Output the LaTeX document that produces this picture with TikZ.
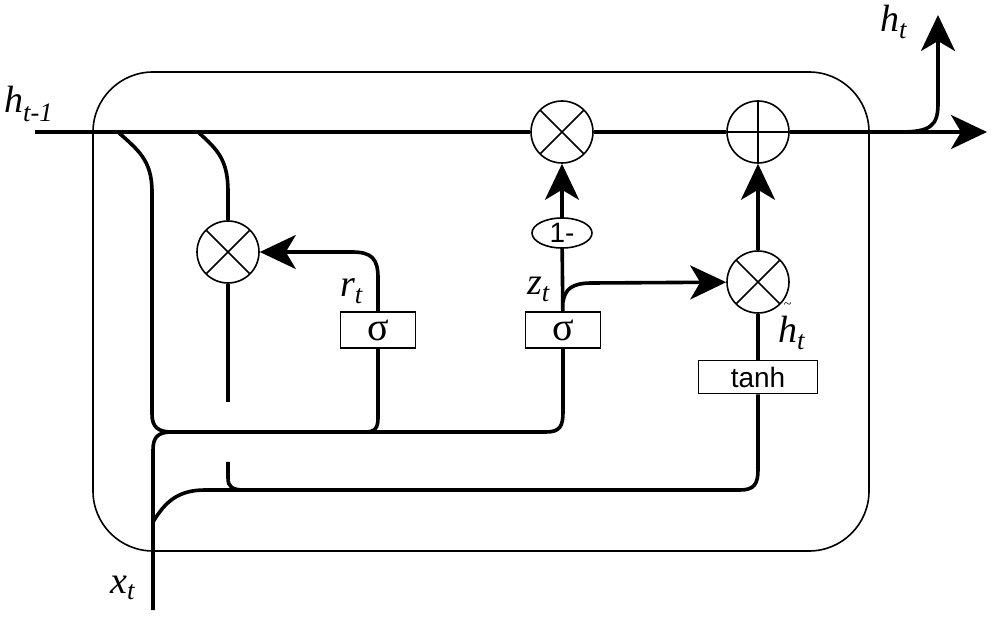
\documentclass[tikz,border=0pt]{standalone}
\usepackage{fontspec}
\setmainfont{Liberation Serif}
\newfontfamily\sansf{Liberation Sans}
\usetikzlibrary{arrows.meta,shapes.geometric}
\begin{document}
\begin{tikzpicture}[x=1pt,y=-1pt,
  wire/.style={line width=3.6pt},
  arr/.style={wire,-{Stealth[length=36pt,width=34pt,inset=10pt]}},
  fine/.style={line width=1.6pt},
  opcirc/.style={circle,draw,fine,minimum size=62pt,inner sep=0pt},
  mulop/.style={opcirc,path picture={\draw[fine] (path picture bounding box.north west)--(path picture bounding box.south east) (path picture bounding box.north east)--(path picture bounding box.south west);}},
  addop/.style={opcirc,path picture={\draw[fine] (path picture bounding box.north)--(path picture bounding box.south) (path picture bounding box.east)--(path picture bounding box.west);}},
  gatebox/.style={draw,fine,rectangle,inner sep=0pt,minimum width=75pt,minimum height=36pt,font=\fontsize{40}{40}\selectfont},
  lab/.style={font=\fontsize{38}{40}\selectfont\itshape,anchor=base west,inner sep=0pt}
]
\useasboundingbox (0,0) rectangle (1002,617);
% cell outline
\draw[fine,rounded corners=60pt] (93,72) rectangle (869,551);
% nodes
\node[mulop] (m1) at (562,132) {};
\node[addop] (ad) at (758,132) {};
\node[mulop] (mr) at (228,252) {};
\node[mulop] (mh) at (758,282) {};
\node[draw,fine,ellipse,minimum width=60pt,minimum height=30pt,inner sep=0pt,font=\sansf\fontsize{28}{28}\selectfont] (one) at (562,233) {1-};
\node[gatebox] (sr) at (378,330) {\raisebox{-0.05em}{σ}};
\node[gatebox] (sz) at (563,330) {\raisebox{-0.05em}{σ}};
\node[gatebox,minimum width=119pt,minimum height=33pt,font=\sansf\fontsize{28}{30}\selectfont] (th) at (758,377) {tanh};
% free ends
\coordinate (hin) at (35,132);
\coordinate (hout) at (987,132);
\coordinate (hbr) at (900,132);
\coordinate (htop) at (938,15);
\coordinate (tapA) at (118,132);
\coordinate (tapB) at (198,132);
\coordinate (jm) at (172,432);
\coordinate (xin) at (153,610);
\coordinate (xbr) at (153,522);
\coordinate (mrend) at (228,402);
\coordinate (rgo) at (228,462);
\coordinate (jl) at (245,490);
\coordinate (zbr) at (563,302);
\coordinate (srj) at (365,432);
% wires
\draw[wire] (hin) -- (m1);
\draw[wire] (m1) -- (ad);
\draw[arr] (ad) -- (hout);
\draw[arr] (hbr) .. controls (930,132) and (938,126) .. (938,104) -- (htop);
\draw[wire] (tapA) .. controls (138,150) and (152,160) .. (152,192) -- (152,414) .. controls (152,427) and (158,432) .. (jm);
\draw[wire] (tapB) .. controls (218,150) and (228,160) .. (228,192) -- (mr);
\draw[wire] (mr) -- (mrend);
\draw[wire] (xin) -- (153,450) .. controls (153,437) and (158,432) .. (jm);
\draw[wire] (jm) -- (546,432) .. controls (560,432) and (563,426) .. (563,412) -- (sz);
\draw[wire] (xbr) .. controls (165,502) and (178,490) .. (205,490) -- (740,490) .. controls (754,490) and (758,484) .. (758,470) -- (th);
\draw[wire] (rgo) -- (228,478) .. controls (228,487) and (232,490) .. (jl);
\draw[wire] (sr.south) -- (378,418) .. controls (378,428) and (375,432) .. (srj);
\draw[arr] (sr.north) -- (378,278) .. controls (378,259) and (372,252) .. (352,252) -- (mr);
\draw[wire] (sz) -- (one);
\draw[arr] (one) -- (m1);
\draw[arr] (zbr) .. controls (565,289) and (572,283) .. (592,283) -- (mh);
\draw[wire] (th) -- (mh);
\draw[arr] (mh) -- (ad);
% labels
\node[lab] (lhin) at (4,113) {h\textsubscript{t-1}};
\node[lab] (lhout) at (880,32) {h\textsubscript{t}};
\node[lab] (lr) at (340,297) {r\textsubscript{t}};
\node[lab] (lz) at (527,295) {z\textsubscript{t}};
\node[lab] (lht) at (778,343) {\rlap{\raisebox{0.9em}{\hspace{0.15em}\upshape\fontsize{14}{14}\selectfont\textasciitilde}}h\textsubscript{t}};
\node[lab] (lx) at (110,593) {x\textsubscript{t}};
\end{tikzpicture}
\end{document}
